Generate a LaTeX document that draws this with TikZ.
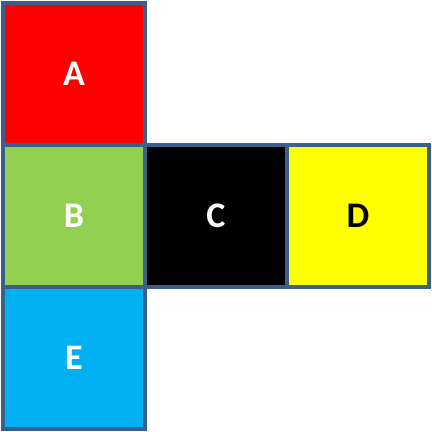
\documentclass[tikz,border=0pt]{standalone}
\usepackage{fontspec}
\setmainfont{Carlito}
\definecolor{edge}{HTML}{3A5F8A}
\definecolor{cred}{HTML}{FF0000}
\definecolor{cgreen}{HTML}{92D050}
\definecolor{cyellow}{HTML}{FFFF00}
\definecolor{cblue}{HTML}{00B0F0}
\begin{document}
\begin{tikzpicture}[x=1pt,y=-1pt,
  sq/.style={draw=edge,line width=3.3pt,minimum size=142pt,inner sep=0pt,outer sep=0pt,
    font=\bfseries\fontsize{36}{38}\selectfont,text=white}]
\useasboundingbox (0,0) rectangle (432,432);
\node[sq,fill=cred] (A) at (74,74) {A};
\node[sq,fill=cgreen] (B) at (74,216) {B};
\node[sq,fill=black] (C) at (216,216) {C};
\node[sq,fill=cyellow,text=black] (D) at (358,216) {D};
\node[sq,fill=cblue] (E) at (74,358) {E};
\end{tikzpicture}
\end{document}
